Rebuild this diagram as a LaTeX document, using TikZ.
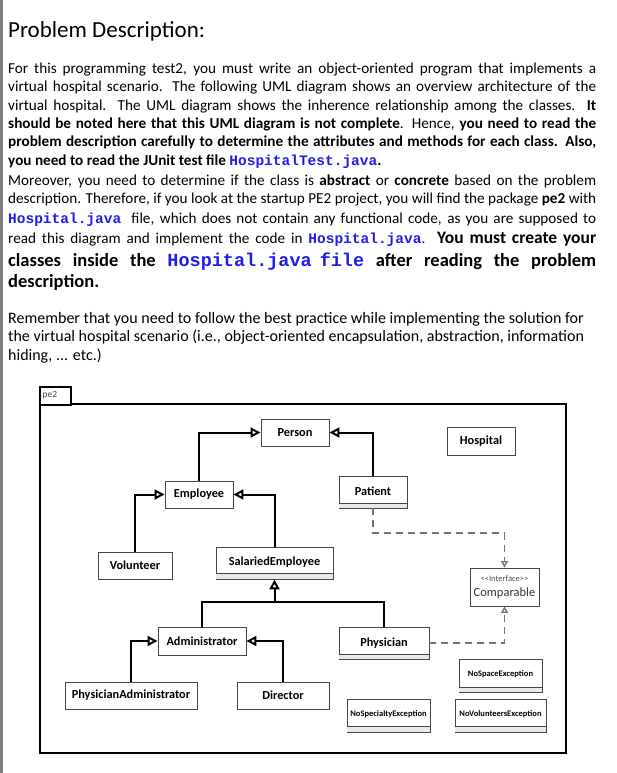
\documentclass[tikz,border=0pt]{standalone}
\usepackage{fontspec}
\setmainfont{Carlito}
\newfontfamily\codefnt{Liberation Mono}
\usetikzlibrary{arrows.meta}
\definecolor{codeblue}{RGB}{30,30,235}
\definecolor{pagebar}{RGB}{128,128,128}
\definecolor{boxline}{RGB}{70,70,70}
\definecolor{stripfill}{RGB}{232,232,232}
\newcommand\jv[1]{{\color{codeblue}\codefnt\bfseries #1}}
\newcommand\jvs[1]{{\color{codeblue}\codefnt\bfseries\fontsize{14.5}{17}\selectfont #1}}
\newcommand\jline[1]{{\spaceskip=.226em plus 2em minus .1em\relax\makebox[588pt][s]{#1}}}
\newcommand\mystrip[2]{%
  \fill[stripfill] ([shift={(0.6pt,0.6pt)}]#1.south west) rectangle ([shift={(-0.6pt,#2)}]#1.south east);
  \draw[boxline, line width=0.9pt] ([yshift=#2]#1.south west) -- ([yshift=#2]#1.south east);}
\tikzset{
  txt/.style={anchor=base west, inner sep=0pt, font=\fontsize{15.2}{18}\selectfont},
  txtb/.style={anchor=base west, inner sep=0pt, font=\fontsize{16}{18}\selectfont},
  cls/.style={draw=boxline, line width=0.9pt, fill=white, inner sep=0pt,
    font=\fontsize{12.3}{14}\selectfont\bfseries},
  exc/.style={cls, font=\fontsize{8.5}{9}\selectfont\bfseries},
  inh/.style={-{Triangle[open,length=10pt,width=10pt]}, line width=2pt, black},
  real/.style={-{Triangle[open,length=6.5pt,width=7pt]}, line width=1.3pt, draw=black!55,
    dash pattern=on 7pt off 5pt},
}
\begin{document}
\begin{tikzpicture}[x=1pt,y=-1pt]
\useasboundingbox (0,0) rectangle (616,773);
\fill[white] (0,0) rectangle (616,773);
\fill[pagebar] (0,0) rectangle (2.7,773);

% ---------- text ----------
\node[anchor=base west, inner sep=0pt, font=\fontsize{23}{27}\selectfont] (title) at (8,37.5) {Problem Description:};
\node[txt] (l1) at (8,73.5) {\jline{For this programming test2, you must write an object-oriented program that implements a}};
\node[txt] (l2) at (8,91.8) {\jline{virtual hospital scenario. The following UML diagram shows an overview architecture of the}};
\node[txt] (l3) at (8,110.2) {\jline{virtual hospital. The UML diagram shows the inherence relationship among the classes. \textbf{It}}};
\node[txt] (l4) at (8,128.5) {\jline{\textbf{should be noted here that this UML diagram is not complete}. Hence, \textbf{you need to read the}}};
\node[txt] (l5) at (8,146.8) {\jline{\textbf{problem description carefully to determine the attributes and methods for each class. Also,}}};
\node[txt] (l6) at (8,165.2) {\textbf{you need to read the JUnit test file} \jvs{HospitalTest.java}\textbf{.}};
\node[txt] (l7) at (8,185.3) {\jline{Moreover, you need to determine if the class is \textbf{abstract} or \textbf{concrete} based on the problem}};
\node[txt] (l8) at (8,203.6) {\jline{description. Therefore, if you look at the startup PE2 project, you will find the package \textbf{pe2} with}};
\node[txt] (l9) at (8,223) {\jline{\jvs{Hospital.java}\hspace{5pt} file, which does not contain any functional code, as you are supposed to}};
\node[txt] (l10) at (8,243.8) {\jline{read this diagram and implement the code in \jvs{Hospital.java}. {\fontsize{17.5}{20}\selectfont\bfseries You must create your}}};
\node[txt, font=\fontsize{18.5}{21}\selectfont\bfseries] (l11) at (8,266.5) {\jline{classes inside the \jv{Hospital.java\hspace{8pt}file} after reading the problem}};
\node[txt, font=\fontsize{18.5}{21}\selectfont\bfseries] (l12) at (8,287.8) {description.};
\node[txtb] (l13) at (8,323.6) {Remember that you need to follow the best practice while implementing the solution for};
\node[txtb] (l14) at (8,341.9) {the virtual hospital scenario (i.e., object-oriented encapsulation, abstraction, information};
\node[txtb] (l15) at (8,360.2) {hiding, ... etc.)};

% ---------- package ----------
\draw[line width=1.8pt, black] (40,404) rectangle (566,753);
\node[draw=black, line width=1.8pt, fill=white, minimum width=31pt, minimum height=18pt, inner sep=0pt,
  anchor=north west] (pkg) at (39,386) {};
\node[anchor=west, inner sep=0pt, font=\fontsize{9.5}{11}\selectfont, text=black!75] (pkgname) at (42.5,395.5) {pe2};

% ---------- classes ----------
\node[cls, minimum width=68pt, minimum height=27pt] (person) at (295,432.5) {Person};
\node[cls, minimum width=68pt, minimum height=28pt] (hospital) at (481,441) {Hospital};
\node[cls, minimum width=68pt, minimum height=27pt] (employee) at (199,494.5) {Employee};
\node[cls, minimum width=68pt, minimum height=32pt] (patient) at (373,492) {\raisebox{2.5pt}{Patient}};
\mystrip{patient}{5pt}
\node[cls, minimum width=74pt, minimum height=27pt] (volunteer) at (135,565.5) {Volunteer};
\node[cls, minimum width=117pt, minimum height=32pt] (salaried) at (274.5,563) {\raisebox{3pt}{SalariedEmployee}};
\mystrip{salaried}{6pt}
\node[cls, minimum width=69pt, minimum height=38pt, font=\fontsize{12.5}{14}\selectfont, align=center] (comparable) at (504.5,587)
  {{\fontsize{8.5}{10}\selectfont\color{black!70}<{}<Interface>{}>}\\[1pt]{\color{black!80}Comparable}};
\node[cls, minimum width=88pt, minimum height=28pt] (admin) at (202,641) {Administrator};
\node[cls, minimum width=90pt, minimum height=32pt] (physician) at (384,643) {\raisebox{2.5pt}{Physician}};
\mystrip{physician}{5pt}
\node[exc, minimum width=83pt, minimum height=33pt] (nospace) at (500.5,675.5) {\raisebox{3pt}{NoSpaceException}};
\mystrip{nospace}{5.5pt}
\node[cls, minimum width=132pt, minimum height=27pt] (phadmin) at (131,695.5) {PhysicianAdministrator};
\node[cls, minimum width=92pt, minimum height=27pt] (director) at (283,695.5) {Director};
\node[exc, minimum width=83pt, minimum height=33pt] (nospecialty) at (388.5,715.5) {\raisebox{3pt}{NoSpecialtyException}};
\mystrip{nospecialty}{6.5pt}
\node[exc, minimum width=91pt, minimum height=33pt] (novolunteers) at (500.5,715.5) {\raisebox{3pt}{NoVolunteersException}};
\mystrip{novolunteers}{6.5pt}

% ---------- connectors ----------
\draw[inh] (employee.north) |- (person.west);
\draw[inh] (patient.north) |- (person.east);
\draw[inh] (volunteer.north) |- (employee.west);
\draw[inh] (salaried.north) |- (employee.east);
\coordinate (join) at (274.5,602);
\draw[line width=2pt] (admin.north) |- (join);
\draw[line width=2pt] (physician.north) |- (join);
\draw[inh] (join) -- (salaried.south);
\draw[inh] (phadmin.north) |- (admin.west);
\draw[inh] (director.north) |- (admin.east);
\coordinate (pj) at (373,533);
\draw[real] (patient.south) -- (pj) -| (comparable.north);
\draw[real] (physician.east) -| (comparable.south);
\end{tikzpicture}
\end{document}
